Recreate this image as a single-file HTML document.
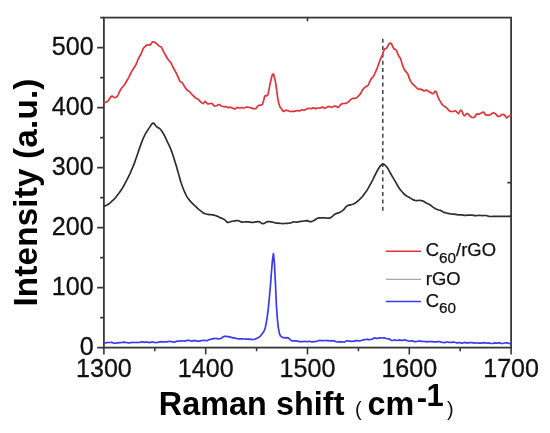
<!DOCTYPE html>
<html>
<head>
<meta charset="utf-8">
<title>Raman spectra</title>
<style>
html,body{margin:0;padding:0;background:#fff;}
body{width:550px;height:433px;overflow:hidden;}
svg{display:block;filter:blur(0.35px);}
text{font-family:"Liberation Sans",Arial,sans-serif;fill:#111;}
.tick{font-size:25.1px;stroke:#111;stroke-width:0.3px;}
.title{font-size:32.3px;font-weight:bold;fill:#000;}
.leg{font-size:18.4px;stroke:#111;stroke-width:0.25px;}
</style>
</head>
<body>
<svg width="550" height="433" viewBox="0 0 550 433">
<rect x="0" y="0" width="550" height="433" fill="#fff"/>
<!-- axes frame -->
<g stroke="#383838" stroke-width="1.8" fill="none" stroke-linecap="butt">
<rect x="103.9" y="17.6" width="407.2" height="330"/>
<!-- left major ticks -->
<path stroke-width="1.6" d="M97.2,47.6H103.9 M97.2,107.6H103.9 M97.2,167.6H103.9 M97.2,227.6H103.9 M97.2,287.6H103.9 M97.2,347.6H103.9"/>
<!-- left minor ticks -->
<path stroke-width="1.6" d="M100.2,17.6H103.9 M100.2,77.6H103.9 M100.2,137.6H103.9 M100.2,197.6H103.9 M100.2,257.6H103.9 M100.2,317.6H103.9"/>
<!-- bottom major ticks -->
<path stroke-width="1.6" d="M103.9,347.6V354.5 M205.7,347.6V354.5 M307.5,347.6V354.5 M409.3,347.6V354.5 M511.1,347.6V354.5"/>
<!-- bottom minor ticks -->
<path stroke-width="1.6" d="M154.8,347.6V351.2 M256.6,347.6V351.2 M358.4,347.6V351.2 M460.2,347.6V351.2"/>
<!-- top / right mid ticks -->
<path stroke-width="1.6" d="M307.5,17.6V21.2 M511.1,182.6H507.4"/>
</g>
<!-- dashed guide -->
<path d="M382.8,38.8V211" stroke="#333" stroke-width="1.4" stroke-dasharray="4,3.3" fill="none"/>
<!-- curves -->
<g fill="none" stroke-linejoin="round" stroke-linecap="round">
<path stroke="#e0323a" stroke-width="1.7" d="M104.0,102.8 L105.1,102.5 L106.2,102.0 L107.3,101.4 L108.4,100.5 L109.5,98.8 L110.6,97.0 L111.7,96.1 L112.8,96.4 L113.9,97.3 L115.0,97.6 L116.1,97.2 L117.2,96.4 L118.3,94.6 L119.4,92.0 L120.5,89.8 L121.6,88.2 L122.7,86.7 L123.8,85.5 L124.9,84.1 L126.0,82.2 L127.1,80.3 L128.2,78.3 L129.3,76.3 L130.4,73.9 L131.5,71.6 L132.6,69.9 L133.7,68.2 L134.8,66.5 L135.9,64.7 L137.0,62.1 L138.1,59.2 L139.2,57.1 L140.3,55.3 L141.4,52.9 L142.5,50.2 L143.6,48.0 L144.7,46.8 L145.8,45.8 L146.9,45.0 L148.0,44.7 L149.1,45.1 L150.2,45.1 L151.3,43.6 L152.4,42.1 L153.5,41.8 L154.6,42.3 L155.7,42.8 L156.8,43.9 L157.9,44.9 L159.0,46.0 L160.1,46.5 L161.2,46.9 L162.3,48.9 L163.4,51.4 L164.5,53.4 L165.6,55.3 L166.7,57.2 L167.8,59.0 L168.9,60.5 L170.0,61.6 L171.1,63.1 L172.2,65.5 L173.3,67.8 L174.4,69.7 L175.5,71.7 L176.6,73.9 L177.7,76.1 L178.8,78.7 L179.9,81.3 L181.0,82.0 L182.1,82.6 L183.2,84.3 L184.3,86.1 L185.4,87.8 L186.5,89.5 L187.6,90.4 L188.7,90.9 L189.8,92.0 L190.9,93.3 L192.0,94.5 L193.1,95.7 L194.2,96.7 L195.3,97.7 L196.4,98.5 L197.5,99.0 L198.6,99.6 L199.7,100.9 L200.8,102.0 L201.9,102.9 L203.0,103.6 L204.1,102.5 L205.2,101.3 L206.3,102.6 L207.4,103.8 L208.5,103.8 L209.6,103.7 L210.7,103.5 L211.8,103.4 L212.9,104.4 L214.0,105.8 L215.1,106.1 L216.2,105.8 L217.3,105.3 L218.4,104.6 L219.5,104.6 L220.6,105.4 L221.7,106.1 L222.8,106.5 L223.9,106.8 L225.0,106.7 L226.1,106.6 L227.2,107.2 L228.3,107.7 L229.4,107.4 L230.5,107.2 L231.6,107.7 L232.7,108.1 L233.8,108.6 L234.9,109.1 L236.0,108.4 L237.1,107.5 L238.2,107.6 L239.3,108.0 L240.4,108.0 L241.5,107.7 L242.6,107.7 L243.7,108.0 L244.8,107.8 L245.9,107.3 L247.0,107.0 L248.1,107.2 L249.2,107.5 L250.3,107.7 L251.4,107.9 L252.5,108.4 L253.6,108.8 L254.7,108.7 L255.8,108.6 L256.9,107.2 L258.0,105.7 L259.1,105.4 L260.2,105.2 L261.3,105.0 L262.4,104.6 L263.5,101.1 L264.6,96.5 L265.7,95.5 L266.8,95.8 L267.9,94.8 L269.0,89.3 L270.1,83.8 L271.2,79.0 L272.3,74.7 L273.4,73.8 L274.5,77.4 L275.6,82.6 L276.7,90.3 L277.8,98.6 L278.9,103.8 L280.0,107.0 L281.1,108.4 L282.2,110.1 L283.3,111.5 L284.4,111.0 L285.5,110.3 L286.6,110.4 L287.7,110.6 L288.8,111.0 L289.9,111.4 L291.0,111.5 L292.1,111.3 L293.2,111.3 L294.3,111.3 L295.4,111.1 L296.5,110.7 L297.6,110.6 L298.7,110.9 L299.8,110.8 L300.9,110.2 L302.0,109.8 L303.1,110.0 L304.2,110.3 L305.3,109.7 L306.4,109.2 L307.5,108.8 L308.6,108.4 L309.7,108.5 L310.8,108.8 L311.9,108.4 L313.0,107.8 L314.1,108.1 L315.2,108.7 L316.3,108.6 L317.4,108.0 L318.5,108.0 L319.6,108.2 L320.7,108.0 L321.8,107.2 L322.9,107.1 L324.0,108.0 L325.1,108.4 L326.2,107.6 L327.3,106.9 L328.4,106.7 L329.5,106.4 L330.6,107.0 L331.7,107.4 L332.8,106.8 L333.9,106.1 L335.0,106.2 L336.1,106.3 L337.2,106.9 L338.3,107.5 L339.4,106.4 L340.5,104.7 L341.6,103.9 L342.7,103.6 L343.8,103.5 L344.9,103.4 L346.0,103.2 L347.1,102.8 L348.2,102.2 L349.3,101.1 L350.4,99.8 L351.5,98.9 L352.6,98.4 L353.7,98.4 L354.8,98.4 L355.9,98.0 L357.0,97.5 L358.1,96.4 L359.2,95.0 L360.3,94.0 L361.4,92.0 L362.5,89.8 L363.6,88.5 L364.7,87.6 L365.8,86.6 L366.9,86.2 L368.0,85.4 L369.1,83.4 L370.2,80.6 L371.3,78.7 L372.4,77.7 L373.5,76.3 L374.6,74.0 L375.7,71.7 L376.8,69.2 L377.9,66.3 L379.0,63.0 L380.1,59.8 L381.2,57.4 L382.3,55.1 L383.4,51.8 L384.5,49.1 L385.6,48.5 L386.7,48.2 L387.8,46.0 L388.9,43.8 L390.0,43.2 L391.1,43.3 L392.2,45.2 L393.3,47.8 L394.4,49.1 L395.5,49.3 L396.6,50.7 L397.7,53.6 L398.8,55.9 L399.9,57.4 L401.0,59.9 L402.1,63.7 L403.2,67.2 L404.3,69.3 L405.4,71.1 L406.5,72.4 L407.6,73.5 L408.7,76.6 L409.8,79.7 L410.9,81.6 L412.0,83.4 L413.1,84.5 L414.2,85.4 L415.3,86.5 L416.4,87.6 L417.5,88.7 L418.6,89.2 L419.7,89.3 L420.8,89.1 L421.9,89.5 L423.0,90.5 L424.1,91.0 L425.2,90.4 L426.3,90.1 L427.4,90.6 L428.5,91.4 L429.6,91.9 L430.7,92.5 L431.8,93.2 L432.9,93.7 L434.0,92.8 L435.1,91.1 L436.2,91.8 L437.3,95.1 L438.4,98.0 L439.5,100.1 L440.6,101.9 L441.7,103.9 L442.8,105.1 L443.9,105.9 L445.0,106.7 L446.1,107.4 L447.2,108.5 L448.3,109.8 L449.4,110.9 L450.5,111.4 L451.6,111.5 L452.7,111.5 L453.8,111.3 L454.9,110.8 L456.0,111.0 L457.1,112.5 L458.2,113.6 L459.3,112.5 L460.4,110.2 L461.5,110.3 L462.6,112.8 L463.7,115.2 L464.8,115.7 L465.9,114.3 L467.0,113.4 L468.1,114.0 L469.2,115.1 L470.3,116.4 L471.4,117.2 L472.5,117.5 L473.6,117.6 L474.7,117.0 L475.8,115.2 L476.9,113.9 L478.0,114.1 L479.1,114.2 L480.2,113.6 L481.3,113.1 L482.4,112.4 L483.5,112.1 L484.6,113.5 L485.7,115.0 L486.8,115.2 L487.9,115.1 L489.0,115.1 L490.1,114.8 L491.2,114.1 L492.3,113.2 L493.4,112.9 L494.5,113.2 L495.6,113.8 L496.7,115.2 L497.8,116.3 L498.9,116.4 L500.0,116.1 L501.1,115.2 L502.2,114.6 L503.3,114.4 L504.4,114.8 L505.5,116.5 L506.6,117.9 L507.7,117.1 L508.8,116.0 L509.9,115.7 L510.9,115.3"/>
<path stroke="#2e2e2e" stroke-width="1.7" d="M104.4,206.1 L105.9,205.5 L107.4,204.8 L108.9,203.8 L110.4,202.6 L111.9,201.2 L113.4,199.8 L114.9,198.3 L116.4,196.6 L117.9,194.6 L119.4,192.6 L120.9,190.4 L122.4,188.1 L123.9,185.5 L125.4,182.7 L126.9,179.9 L128.4,176.9 L129.9,173.8 L131.4,170.4 L132.9,166.9 L134.4,163.1 L135.9,158.8 L137.4,154.5 L138.9,150.1 L140.4,145.9 L141.9,141.6 L143.4,138.0 L144.9,134.9 L146.4,132.2 L147.9,129.9 L149.4,127.6 L150.9,125.2 L152.4,123.4 L153.9,123.1 L155.4,125.4 L156.9,127.0 L158.4,127.8 L159.9,128.8 L161.4,130.5 L162.9,132.8 L164.4,135.5 L165.9,138.6 L167.4,141.9 L168.9,144.9 L170.4,148.2 L171.9,152.1 L173.4,156.6 L174.9,161.4 L176.4,166.2 L177.9,171.4 L179.4,177.1 L180.9,182.3 L182.4,186.5 L183.9,190.3 L185.4,193.7 L186.9,196.6 L188.4,198.9 L189.9,200.7 L191.4,202.3 L192.9,203.8 L194.4,205.3 L195.9,206.7 L197.4,208.2 L198.9,209.6 L200.4,210.6 L201.9,211.8 L203.4,213.0 L204.9,213.6 L206.4,214.0 L207.9,214.3 L209.4,214.6 L210.9,214.7 L212.4,214.8 L213.9,215.1 L215.4,215.5 L216.9,216.1 L218.4,216.8 L219.9,217.6 L221.4,218.1 L222.9,218.7 L224.4,219.5 L225.9,221.0 L227.4,222.3 L228.9,222.3 L230.4,221.8 L231.9,221.3 L233.4,221.0 L234.9,220.8 L236.4,220.6 L237.9,220.6 L239.4,221.0 L240.9,221.9 L242.4,222.1 L243.9,222.0 L245.4,221.9 L246.9,221.8 L248.4,221.9 L249.9,222.1 L251.4,222.3 L252.9,222.3 L254.4,222.1 L255.9,221.8 L257.4,221.6 L258.9,221.5 L260.4,222.4 L261.9,223.5 L263.4,223.7 L264.9,222.9 L266.4,222.0 L267.9,221.7 L269.4,221.7 L270.9,221.9 L272.4,222.1 L273.9,222.5 L275.4,222.9 L276.9,223.1 L278.4,223.2 L279.9,223.3 L281.4,223.5 L282.9,223.6 L284.4,223.5 L285.9,223.3 L287.4,223.3 L288.9,223.2 L290.4,223.0 L291.9,222.5 L293.4,221.9 L294.9,222.0 L296.4,222.1 L297.9,221.9 L299.4,221.6 L300.9,221.3 L302.4,221.2 L303.9,221.0 L305.4,220.8 L306.9,220.6 L308.4,221.1 L309.9,221.7 L311.4,221.6 L312.9,221.0 L314.4,220.3 L315.9,219.2 L317.4,218.3 L318.9,217.9 L320.4,217.8 L321.9,217.8 L323.4,217.8 L324.9,217.8 L326.4,218.0 L327.9,218.2 L329.4,218.2 L330.9,217.5 L332.4,216.4 L333.9,215.0 L335.4,213.9 L336.9,213.4 L338.4,212.9 L339.9,212.2 L341.4,211.4 L342.9,210.4 L344.4,208.8 L345.9,206.9 L347.4,205.7 L348.9,205.1 L350.4,204.8 L351.9,204.5 L353.4,204.0 L354.9,203.2 L356.4,202.2 L357.9,201.0 L359.4,199.6 L360.9,198.2 L362.4,196.5 L363.9,194.6 L365.4,192.5 L366.9,190.4 L368.4,187.9 L369.9,185.2 L371.4,182.4 L372.9,179.6 L374.4,176.4 L375.9,173.3 L377.4,170.5 L378.9,168.0 L380.4,165.8 L381.9,164.5 L383.4,164.0 L384.9,165.0 L386.4,166.5 L387.9,168.6 L389.4,171.3 L390.9,174.0 L392.4,176.6 L393.9,179.1 L395.4,181.7 L396.9,184.3 L398.4,187.0 L399.9,189.2 L401.4,191.0 L402.9,192.7 L404.4,194.3 L405.9,195.6 L407.4,196.4 L408.9,197.1 L410.4,198.1 L411.9,199.1 L413.4,199.9 L414.9,200.4 L416.4,200.6 L417.9,200.5 L419.4,200.3 L420.9,200.5 L422.4,200.9 L423.9,201.5 L425.4,202.4 L426.9,203.3 L428.4,204.1 L429.9,204.8 L431.4,205.9 L432.9,207.1 L434.4,208.1 L435.9,208.9 L437.4,209.6 L438.9,210.0 L440.4,210.3 L441.9,211.2 L443.4,212.1 L444.9,212.7 L446.4,213.0 L447.9,213.3 L449.4,213.6 L450.9,214.0 L452.4,214.1 L453.9,214.2 L455.4,214.4 L456.9,214.6 L458.4,214.8 L459.9,214.8 L461.4,214.9 L462.9,215.1 L464.4,215.3 L465.9,215.3 L467.4,215.2 L468.9,215.2 L470.4,215.2 L471.9,215.2 L473.4,215.4 L474.9,215.6 L476.4,215.6 L477.9,215.5 L479.4,215.4 L480.9,215.5 L482.4,215.6 L483.9,215.5 L485.4,215.5 L486.9,215.7 L488.4,216.2 L489.9,216.5 L491.4,216.5 L492.9,216.4 L494.4,216.4 L495.9,216.4 L497.4,216.4 L498.9,216.4 L500.4,216.4 L501.9,216.4 L503.4,216.3 L504.9,216.3 L506.4,216.3 L507.9,216.3 L509.4,216.3 L510.7,216.2"/>
<path stroke="#3a3af0" stroke-width="1.7" d="M104.4,342.9 L105.4,342.8 L106.4,342.7 L107.4,342.6 L108.4,342.5 L109.4,342.5 L110.4,342.5 L111.4,342.4 L112.4,342.6 L113.4,343.0 L114.4,343.3 L115.4,343.1 L116.4,343.0 L117.4,342.8 L118.4,342.8 L119.4,342.7 L120.4,342.6 L121.4,342.5 L122.4,342.4 L123.4,342.3 L124.4,342.2 L125.4,342.4 L126.4,342.5 L127.4,342.7 L128.4,342.8 L129.4,343.0 L130.4,342.7 L131.4,342.5 L132.4,342.4 L133.4,342.5 L134.4,342.5 L135.4,342.5 L136.4,342.4 L137.4,342.5 L138.4,342.5 L139.4,342.5 L140.4,342.2 L141.4,341.9 L142.4,341.9 L143.4,342.1 L144.4,342.3 L145.4,342.2 L146.4,342.1 L147.4,342.1 L148.4,342.4 L149.4,342.6 L150.4,342.3 L151.4,342.1 L152.4,342.0 L153.4,342.2 L154.4,342.4 L155.4,342.5 L156.4,342.6 L157.4,342.5 L158.4,342.2 L159.4,341.9 L160.4,341.8 L161.4,341.7 L162.4,341.8 L163.4,341.8 L164.4,341.9 L165.4,341.9 L166.4,341.8 L167.4,341.7 L168.4,341.5 L169.4,341.3 L170.4,341.5 L171.4,341.6 L172.4,341.8 L173.4,342.0 L174.4,342.3 L175.4,341.8 L176.4,341.4 L177.4,341.2 L178.4,341.2 L179.4,341.1 L180.4,341.0 L181.4,340.8 L182.4,340.8 L183.4,341.0 L184.4,341.1 L185.4,340.9 L186.4,340.6 L187.4,340.4 L188.4,340.4 L189.4,340.4 L190.4,340.8 L191.4,341.1 L192.4,341.1 L193.4,340.7 L194.4,340.4 L195.4,340.6 L196.4,340.9 L197.4,341.1 L198.4,341.1 L199.4,341.1 L200.4,340.9 L201.4,340.6 L202.4,340.5 L203.4,340.4 L204.4,340.4 L205.4,340.5 L206.4,340.6 L207.4,340.5 L208.4,340.0 L209.4,339.5 L210.4,339.3 L211.4,339.2 L212.4,338.9 L213.4,338.7 L214.4,338.4 L215.4,338.5 L216.4,338.6 L217.4,338.7 L218.4,338.8 L219.4,338.8 L220.4,338.5 L221.4,338.1 L222.4,337.4 L223.4,336.7 L224.4,336.3 L225.4,336.4 L226.4,336.4 L227.4,336.6 L228.4,336.7 L229.4,336.9 L230.4,337.1 L231.4,337.4 L232.4,337.6 L233.4,337.8 L234.4,337.9 L235.4,338.2 L236.4,338.5 L237.4,338.7 L238.4,338.8 L239.4,338.9 L240.4,338.9 L241.4,338.8 L242.4,338.9 L243.4,339.0 L244.4,339.0 L245.4,339.1 L246.4,339.2 L247.4,339.2 L248.4,339.2 L249.4,339.2 L250.4,339.3 L251.4,339.3 L252.4,339.4 L253.4,339.5 L254.4,339.5 L255.4,339.0 L256.4,338.5 L257.4,338.0 L258.4,337.5 L259.4,336.9 L260.4,336.1 L261.4,334.8 L262.4,333.5 L263.4,332.1 L264.4,330.3 L265.4,327.2 L266.4,322.0 L267.4,315.6 L268.4,307.4 L269.4,297.0 L270.4,285.9 L271.4,272.8 L272.4,260.9 L273.4,253.6 L274.4,263.0 L275.4,282.6 L276.4,305.2 L277.4,319.5 L278.4,328.1 L279.4,333.4 L280.4,335.9 L281.4,336.7 L282.4,337.3 L283.4,337.6 L284.4,337.7 L285.4,337.9 L286.4,337.8 L287.4,337.6 L288.4,338.0 L289.4,338.9 L290.4,339.7 L291.4,340.4 L292.4,340.9 L293.4,340.9 L294.4,340.9 L295.4,340.9 L296.4,340.9 L297.4,341.1 L298.4,341.3 L299.4,341.6 L300.4,341.6 L301.4,341.6 L302.4,341.6 L303.4,341.5 L304.4,341.3 L305.4,341.5 L306.4,341.7 L307.4,341.7 L308.4,341.5 L309.4,341.2 L310.4,341.5 L311.4,341.8 L312.4,341.9 L313.4,341.7 L314.4,341.6 L315.4,341.5 L316.4,341.3 L317.4,341.1 L318.4,340.8 L319.4,340.4 L320.4,340.5 L321.4,340.6 L322.4,340.7 L323.4,340.6 L324.4,340.5 L325.4,340.5 L326.4,340.6 L327.4,340.6 L328.4,340.7 L329.4,340.8 L330.4,340.8 L331.4,340.7 L332.4,340.8 L333.4,340.8 L334.4,340.9 L335.4,341.4 L336.4,341.8 L337.4,342.0 L338.4,341.9 L339.4,341.7 L340.4,341.8 L341.4,341.8 L342.4,341.9 L343.4,342.0 L344.4,342.1 L345.4,341.6 L346.4,341.1 L347.4,340.9 L348.4,341.0 L349.4,341.1 L350.4,341.2 L351.4,341.3 L352.4,341.3 L353.4,341.2 L354.4,341.2 L355.4,340.9 L356.4,340.7 L357.4,340.7 L358.4,340.8 L359.4,341.0 L360.4,340.7 L361.4,340.5 L362.4,340.2 L363.4,339.9 L364.4,339.6 L365.4,339.5 L366.4,339.4 L367.4,339.4 L368.4,339.6 L369.4,339.7 L370.4,339.5 L371.4,339.3 L372.4,338.9 L373.4,338.4 L374.4,337.8 L375.4,338.1 L376.4,338.4 L377.4,338.4 L378.4,338.1 L379.4,337.8 L380.4,337.9 L381.4,338.0 L382.4,338.0 L383.4,337.9 L384.4,337.9 L385.4,338.2 L386.4,338.5 L387.4,338.8 L388.4,338.9 L389.4,339.0 L390.4,339.7 L391.4,340.4 L392.4,340.5 L393.4,340.2 L394.4,339.8 L395.4,340.1 L396.4,340.5 L397.4,340.5 L398.4,340.2 L399.4,339.9 L400.4,340.1 L401.4,340.3 L402.4,340.3 L403.4,340.1 L404.4,339.8 L405.4,340.1 L406.4,340.4 L407.4,340.7 L408.4,341.0 L409.4,341.3 L410.4,341.0 L411.4,340.7 L412.4,340.8 L413.4,341.2 L414.4,341.6 L415.4,341.6 L416.4,341.5 L417.4,341.4 L418.4,341.2 L419.4,341.1 L420.4,341.2 L421.4,341.3 L422.4,341.4 L423.4,341.5 L424.4,341.5 L425.4,341.6 L426.4,341.7 L427.4,341.8 L428.4,341.7 L429.4,341.7 L430.4,341.7 L431.4,341.7 L432.4,341.7 L433.4,341.8 L434.4,341.9 L435.4,341.9 L436.4,341.8 L437.4,341.7 L438.4,341.7 L439.4,341.7 L440.4,341.9 L441.4,342.2 L442.4,342.4 L443.4,342.5 L444.4,342.7 L445.4,342.4 L446.4,342.0 L447.4,342.0 L448.4,342.2 L449.4,342.5 L450.4,342.4 L451.4,342.3 L452.4,342.3 L453.4,342.2 L454.4,342.2 L455.4,342.5 L456.4,342.8 L457.4,342.9 L458.4,342.7 L459.4,342.5 L460.4,342.8 L461.4,343.1 L462.4,343.1 L463.4,342.8 L464.4,342.4 L465.4,342.6 L466.4,342.8 L467.4,342.9 L468.4,342.8 L469.4,342.7 L470.4,342.7 L471.4,342.6 L472.4,342.7 L473.4,342.9 L474.4,343.1 L475.4,343.0 L476.4,342.9 L477.4,343.0 L478.4,343.1 L479.4,343.2 L480.4,343.1 L481.4,343.1 L482.4,342.9 L483.4,342.8 L484.4,342.6 L485.4,342.8 L486.4,343.0 L487.4,343.1 L488.4,343.2 L489.4,343.2 L490.4,343.4 L491.4,343.5 L492.4,343.5 L493.4,343.2 L494.4,342.9 L495.4,343.1 L496.4,343.2 L497.4,343.2 L498.4,342.9 L499.4,342.7 L500.4,343.1 L501.4,343.5 L502.4,343.5 L503.4,343.3 L504.4,343.0 L505.4,342.9 L506.4,342.8 L507.4,342.9 L508.4,343.2 L509.4,343.5 L510.4,343.8 L510.8,343.8"/>
</g>
<!-- y tick labels -->
<g class="tick" text-anchor="end">
<text x="93.7" y="54.8">500</text>
<text x="93.7" y="114.8">400</text>
<text x="93.7" y="174.8">300</text>
<text x="93.7" y="234.9">200</text>
<text x="93.7" y="294.9">100</text>
<text x="93.7" y="354.9">0</text>
</g>
<!-- x tick labels -->
<g class="tick" text-anchor="middle">
<text x="103.9" y="377.4">1300</text>
<text x="205.7" y="377.4">1400</text>
<text x="307.5" y="377.4">1500</text>
<text x="409.3" y="377.4">1600</text>
<text x="511.1" y="377.4">1700</text>
</g>
<!-- axis titles -->
<text class="title" x="158.8" y="414.7" textLength="185.6" lengthAdjust="spacing">Raman shift</text>
<text x="355" y="415.5" style="font-size:20px;">(</text>
<text class="title" x="367.5" y="414.7">cm</text>
<text class="title" x="416.8" y="407.6" style="font-size:31px;">-</text><text class="title" x="426.6" y="406.2" style="font-size:31px;">1</text>
<text x="447" y="415.5" style="font-size:20px;">)</text>
<text class="title" style="font-size:33.2px" transform="translate(36.8,306.6) rotate(-90)" textLength="228" lengthAdjust="spacing">Intensity (a.u.)</text>
<!-- legend -->
<g fill="none" stroke-width="1.4">
<path d="M385.8,251.2H421" stroke="#e0323a"/>
<path d="M386,279.4H421" stroke="#a8a8a8" stroke-width="1.15"/>
<path d="M385.8,301.5H421" stroke="#3a3af0"/>
</g>
<g class="leg">
<text x="425.8" y="256.4">C<tspan style="font-size:15.3px" dy="6.1">60</tspan><tspan dy="-6.1">/rGO</tspan></text>
<text x="425.8" y="284.7">rGO</text>
<text x="425.8" y="306.6">C<tspan style="font-size:15.3px" dy="6.1">60</tspan></text>
</g>
</svg>
</body>
</html>
